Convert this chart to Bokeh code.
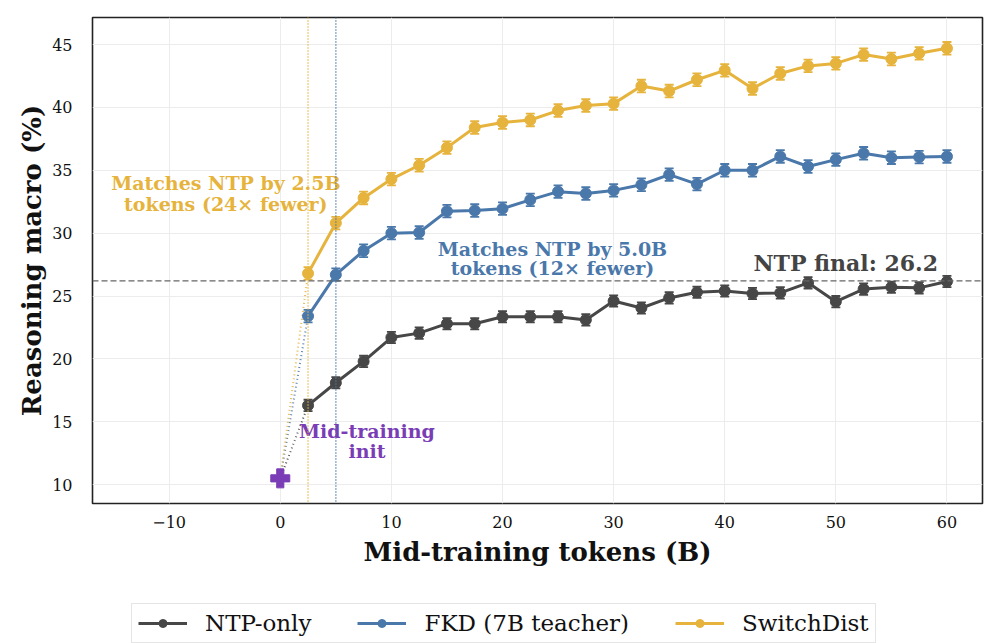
from bokeh.plotting import figure
from bokeh.layouts import column
from bokeh.models import (ColumnDataSource, Span, Whisker, TeeHead, Legend, LegendItem,
                          Range1d, FixedTicker)
from bokeh.core.properties import value
from bokeh.embed import file_html
from bokeh.resources import INLINE

# ---------------- data ----------------
tokens = [2.5, 5, 7.5, 10, 12.5, 15, 17.5, 20, 22.5, 25, 27.5, 30,
          32.5, 35, 37.5, 40, 42.5, 45, 47.5, 50, 52.5, 55, 57.5, 60]
ntp_only = [16.3, 18.1, 19.8, 21.7, 22.05, 22.8, 22.8, 23.35, 23.35, 23.35, 23.1, 24.6,
            24.05, 24.85, 25.3, 25.4, 25.2, 25.25, 26.05, 24.55, 25.55, 25.7, 25.65, 26.15]
fkd = [23.4, 26.7, 28.6, 30.0, 30.05, 31.75, 31.8, 31.95, 32.65, 33.3, 33.15, 33.4,
       33.85, 34.65, 33.9, 35.0, 35.0, 36.1, 35.3, 35.85, 36.35, 36.0, 36.05, 36.1]
switchdist = [26.8, 30.8, 32.8, 34.3, 35.4, 36.8, 38.4, 38.8, 39.0, 39.75, 40.15, 40.3,
              41.7, 41.3, 42.2, 42.95, 41.5, 42.7, 43.3, 43.5, 44.2, 43.85, 44.3, 44.7]
err_ntp = [0.45] * 24
err_fkd = [0.5] * 24
err_sd = [0.5] * 24

series_names = ["NTP-only", "FKD (7B teacher)", "SwitchDist"]
colors = ["#474747", "#4a78aa", "#e6b33d"]
init_x, init_y = 0, 10.5
ntp_final = 26.2
match_sd_x = 2.5
match_fkd_x = 5.0

x_ticks = [-10, 0, 10, 20, 30, 40, 50, 60]
y_ticks = [10, 15, 20, 25, 30, 35, 40, 45]

purple = "#7a3db5"
FONT = "DejaVu Serif"

# ---------------- main figure ----------------
p = figure(frame_width=890, frame_height=486, output_backend="svg", toolbar_location=None,
           x_range=Range1d(-16.9, 63.2), y_range=Range1d(8.5, 47.15),
           min_border_left=92, min_border_right=8, min_border_top=17, min_border_bottom=100)
p.background_fill_color = "white"
p.border_fill_color = "white"
p.outline_line_color = "#222222"
p.outline_line_width = 1.6

for ax in (p.xaxis[0], p.yaxis[0]):
    ax.axis_line_color = None
    ax.major_tick_line_color = None
    ax.minor_tick_line_color = None
    ax.major_label_text_font = FONT
    ax.major_label_text_font_size = "16px"
    ax.major_label_text_color = "#111111"
    ax.axis_label_text_font = FONT
    ax.axis_label_text_font_style = "bold"
    ax.axis_label_text_font_size = "26px"
    ax.axis_label_text_color = "#111111"

p.xaxis.ticker = FixedTicker(ticks=x_ticks)
p.yaxis.ticker = FixedTicker(ticks=y_ticks)
p.xaxis.major_label_overrides = {t: (str(t).replace("-", "\u2212")) for t in x_ticks}
p.xaxis.axis_label = "Mid-training tokens (B)"
p.yaxis.axis_label = "Reasoning macro (%)"
p.xaxis.major_label_standoff = 6
p.yaxis.major_label_standoff = 14
p.xaxis.axis_label_standoff = 6
p.yaxis.axis_label_standoff = 2

p.grid.grid_line_color = "#ececec"
p.grid.grid_line_width = 1

# reference lines
p.add_layout(Span(location=ntp_final, dimension="width", line_color="#666666",
                  line_width=1.3, line_dash="6 3"))
p.add_layout(Span(location=match_sd_x, dimension="height", line_color=colors[2],
                  line_width=1.7, line_dash="1 2"))
p.add_layout(Span(location=match_fkd_x, dimension="height", line_color=colors[1],
                  line_width=1.7, line_dash="1 2"))

# dotted connectors from init
all_series = [ntp_only, fkd, switchdist]
all_err = [err_ntp, err_fkd, err_sd]
for ys, c in zip(all_series, colors):
    p.line([init_x, tokens[0]], [init_y, ys[0]], line_color=c, line_width=2,
           line_dash="1 3", line_alpha=0.9)

for name, ys, errs, c in zip(series_names, all_series, all_err, colors):
    src = ColumnDataSource(dict(x=tokens, y=ys,
                                lo=[a - b for a, b in zip(ys, errs)],
                                hi=[a + b for a, b in zip(ys, errs)]))
    p.line("x", "y", source=src, line_color=c, line_width=3)
    w = Whisker(base="x", lower="lo", upper="hi", source=src, line_color=c, line_width=1.8,
                upper_head=TeeHead(size=9, line_color=c, line_width=1.8),
                lower_head=TeeHead(size=9, line_color=c, line_width=1.8))
    p.add_layout(w)
    p.scatter("x", "y", source=src, size=11, fill_color=c, line_color=c)

# init marker
p.scatter([init_x], [init_y], marker="plus", size=19, fill_color=purple, line_color=purple)

# annotations
def label(x, y, txt, color, size="19px", align="center"):
    p.text([x], [y], text=[txt], text_color=color, text_font=value(FONT),
           text_font_style="bold", text_font_size=size, text_align=align,
           text_baseline="middle")

label(-4.9, 33.95, "Matches NTP by 2.5B", colors[2])
label(-4.9, 32.28, "tokens (24\u00d7 fewer)", colors[2])
label(24.5, 28.77, "Matches NTP by 5.0B", colors[1])
label(24.5, 27.26, "tokens (12\u00d7 fewer)", colors[1])
label(59.2, 27.66, "NTP final: 26.2", "#444444", size="22px", align="right")
label(7.8, 14.3, "Mid-training", purple)
label(7.8, 12.7, "init", purple)

# ---------------- legend strip ----------------
# the series are drawn here too, but outside this strip's visible range (0..1),
# so only their legend glyphs show
lg = figure(width=990, height=40, output_backend="svg", toolbar_location=None,
            x_range=Range1d(0, 1), y_range=Range1d(0, 1),
            min_border=0, x_axis_type=None, y_axis_type=None)
lg.outline_line_color = None
lg.grid.visible = False
lg.background_fill_color = "white"
lg.border_fill_color = "white"

items = []
for name, ys, c in zip(series_names, all_series, colors):
    lr = lg.line(tokens, ys, line_color=c, line_width=3)
    cr = lg.scatter(tokens, ys, size=11, fill_color=c, line_color=c)
    items.append(LegendItem(label=name, renderers=[lr, cr]))

legend = Legend(items=items, orientation="horizontal", location=(39, 0))
legend.label_text_font = FONT
legend.label_text_font_size = "23px"
legend.label_text_color = "#111111"
legend.glyph_width = 49
legend.glyph_height = 20
legend.label_standoff = 18
legend.spacing = 46
legend.padding = 6
legend.margin = 0
legend.border_line_color = "#cccccc"
legend.border_line_width = 1.2
legend.background_fill_color = "white"
lg.add_layout(legend, "center")

layout = column(p, lg, spacing=0)
open("out.html", "w").write(file_html(layout, INLINE))
